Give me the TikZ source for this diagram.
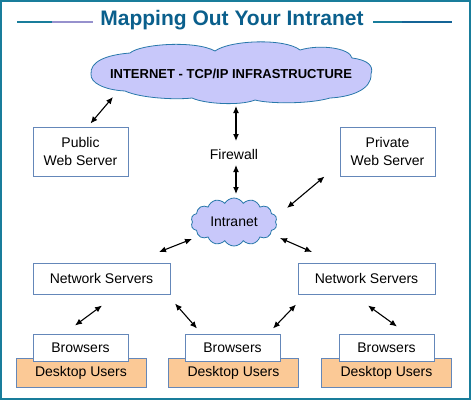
\documentclass[tikz,border=0pt]{standalone}
\usepackage{fontspec}
\setmainfont{Liberation Sans}
\usetikzlibrary{shapes.symbols, arrows.meta}

\definecolor{framecol}{RGB}{25,125,155}
\definecolor{titlecol}{RGB}{10,95,140}
\definecolor{linepurple}{RGB}{150,145,205}
\definecolor{lineblue}{RGB}{20,100,150}
\definecolor{boxcol}{RGB}{100,135,185}
\definecolor{usrfill}{RGB}{251,201,150}
\definecolor{cloudfill}{RGB}{200,200,250}
\definecolor{cloudline}{RGB}{40,120,170}

\begin{document}
\begin{tikzpicture}[x=1pt, y=-1pt,
    box/.style={draw=boxcol, line width=1pt, fill=white, inner sep=0pt, align=center,
        font=\fontsize{14}{17.5}\selectfont},
    usrbox/.style={box, fill=usrfill},
    sky/.style={cloud, cloud ignores aspect, draw=cloudline, fill=cloudfill, line width=0.8pt, inner sep=0pt},
    link/.style={{Latex[length=7pt,width=6pt]}-{Latex[length=7pt,width=6pt]}, line width=1.1pt}]
    \useasboundingbox (0,0) rectangle (471,400);

    % Frame and title
    \draw[framecol, line width=2pt] (1,1) rectangle (470,399);
    \node[text=titlecol, font=\fontsize{21}{24}\bfseries] (title) at (232,20) {Mapping Out Your Intranet};
    \draw[framecol, line width=1.5pt] (17,22) -- (52,22);
    \draw[linepurple, line width=1.5pt] (52,22) -- (93,22);
    \draw[framecol, line width=1.5pt] (373,22) -- (402,22);
    \draw[lineblue, line width=1.5pt] (402,22) -- (452,22);

    % Internet cloud, drawn by hand
    \draw[cloudline, fill=cloudfill, line width=0.8pt] (91,74)
        .. controls (90,62) and (105,55) .. (130,53)
        .. controls (140,44) and (195,40) .. (215,51)
        .. controls (230,40) and (285,38) .. (300,50)
        .. controls (320,44) and (350,48) .. (352,58)
        .. controls (368,60) and (374,66) .. (371,74)
        .. controls (372,90) and (350,97) .. (330,98)
        .. controls (310,104) and (270,104) .. (255,100)
        .. controls (240,106) and (205,104) .. (192,98)
        .. controls (175,100) and (140,98) .. (125,91)
        .. controls (105,90) and (90,83) .. (91,74) -- cycle;
    \node[font=\fontsize{13}{14}\bfseries] (inet) at (231,74) {INTERNET - TCP/IP INFRASTRUCTURE};

    % Intranet cloud
    \node[sky, cloud puffs=14, cloud puff arc=120, minimum width=86pt, minimum height=48pt,
        font=\fontsize{14}{16}\selectfont] (intra) at (234,222) {Intranet};

    % Servers
    \node[box, minimum width=95pt, minimum height=49pt] (pub) at (80.5,151.5) {Public\\Web Server};
    \node[box, minimum width=95pt, minimum height=49pt] (priv) at (387.5,151.5) {Private\\Web Server};
    \node[font=\fontsize{14}{16}\selectfont] (fw) at (234,154) {Firewall};
    \node[box, minimum width=137pt, minimum height=31pt] (nsl) at (101.5,278.5) {Network Servers};
    \node[box, minimum width=137pt, minimum height=31pt] (nsr) at (366.5,278.5) {Network Servers};

    % Desktops with browsers on top
    \foreach \x/\n in {81/l, 233.5/m, 386.5/r}
        \node[usrbox, minimum width=130pt, minimum height=29pt] (du\n) at (\x,372.5) {Desktop Users};
    \foreach \x/\n in {80.5/l, 232.5/m, 386.5/r}
        \node[box, minimum width=95pt, minimum height=27pt] (br\n) at (\x,348) {Browsers};

    % Arrows
    \draw[link] ([shift={(-118,23)}]inet.center) -- ([shift={(10,-3)}]pub.north);
    \draw[link] ([shift={(5,32)}]inet.center) -- ([shift={(2,-13)}]fw.center);
    \draw[link] ([shift={(2,11)}]fw.center) -- ([shift={(2,-28)}]intra.center);
    \draw[link] ([shift={(53,-14)}]intra.center) -- ([shift={(-15,0)}]priv.south west);
    \draw[link] ([shift={(-42,17)}]intra.center) -- ([shift={(57.5,-26.5)}]nsl.center);
    \draw[link] ([shift={(46,16)}]intra.center) -- ([shift={(-54.5,-26.5)}]nsr.center);
    \draw[link] ([shift={(0.5,11)}]nsl.south) -- ([shift={(-5.5,-8.5)}]brl.north);
    \draw[link] ([shift={(73.5,9)}]nsl.south) -- ([shift={(-35.5,-5.5)}]brm.north);
    \draw[link] ([shift={(-70.5,10)}]nsr.south) -- ([shift={(40.5,-5.5)}]brm.north);
    \draw[link] ([shift={(1.5,11)}]nsr.south) -- ([shift={(10.5,-7.5)}]brr.north);
\end{tikzpicture}
\end{document}
